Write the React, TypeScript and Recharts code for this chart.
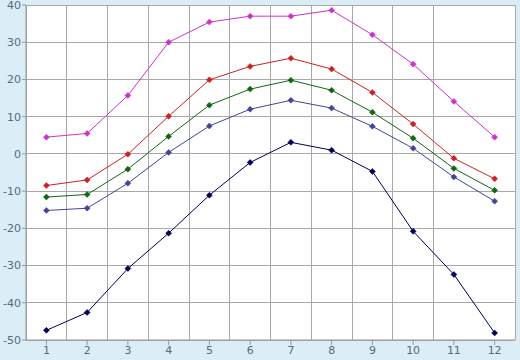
import { LineChart, Line, XAxis, YAxis, CartesianGrid } from 'recharts'

const MONTHS = [1, 2, 3, 4, 5, 6, 7, 8, 9, 10, 11, 12]
const BOUNDARIES = [0.5, 1.5, 2.5, 3.5, 4.5, 5.5, 6.5, 7.5, 8.5, 9.5, 10.5, 11.5, 12.5]
const Y_TICKS = [-50, -40, -30, -20, -10, 0, 10, 20, 30, 40]

const absMax = [4.5, 5.5, 15.7, 30, 35.4, 37, 37, 38.6, 32, 24.1, 14.1, 4.5]
const avgMax = [-8.5, -7, -0.1, 10.1, 19.9, 23.5, 25.7, 22.8, 16.5, 8, -1.2, -6.7]
const avg = [-11.6, -10.9, -4.1, 4.7, 13.1, 17.4, 19.8, 17.1, 11.2, 4.2, -3.9, -9.8]
const avgMin = [-15.2, -14.6, -7.9, 0.4, 7.5, 12, 14.4, 12.3, 7.4, 1.5, -6.2, -12.7]
const absMin = [-47.4, -42.6, -30.8, -21.3, -11.1, -2.3, 3.1, 1, -4.7, -20.8, -32.4, -48.1]

const SERIES = [
  { key: 'absMax', color: '#cc33cc' },
  { key: 'avgMax', color: '#cc2222' },
  { key: 'avg', color: '#116611' },
  { key: 'avgMin', color: '#444499' },
  { key: 'absMin', color: '#000055' },
]

const data = MONTHS.map((m, i) => ({
  month: m,
  absMax: absMax[i],
  avgMax: avgMax[i],
  avg: avg[i],
  avgMin: avgMin[i],
  absMin: absMin[i],
}))

const tickStyle = { fill: '#56697b', fontSize: 11, fontFamily: 'DejaVu Sans, Verdana, sans-serif' }

function Marker(color: string) {
  return (props: any) => {
    const { cx, cy } = props
    if (cx == null || cy == null) return null
    const s = 3
    return (
      <path
        key={`${props.index}`}
        d={`M${cx},${cy - s}L${cx + s},${cy}L${cx},${cy + s}L${cx - s},${cy}Z`}
        fill={color}
        stroke={color}
        strokeWidth={0.5}
      />
    )
  }
}

export default function App() {
  return (
    <div style={{ position: 'fixed', left: 0, top: 0, width: 520, height: 360, background: '#dbeef7' }}>
      <LineChart width={520} height={360} data={data} margin={{ top: 5, right: 5, bottom: 0, left: 0 }}>
        <CartesianGrid
          xAxisId="grid"
          stroke="#a8a8a8"
          fill="#ffffff"
          fillOpacity={1}
          shapeRendering="crispEdges"
        />
        <XAxis
          xAxisId="grid"
          dataKey="month"
          type="number"
          domain={[0.5, 12.5]}
          ticks={BOUNDARIES}
          hide
        />
        <XAxis
          dataKey="month"
          type="number"
          domain={[0.5, 12.5]}
          ticks={MONTHS}
          height={20}
          stroke="#999999"
          tick={tickStyle}
          tickSize={5}
          tickMargin={1}
          interval={0}
        />
        <YAxis
          domain={[-50, 40]}
          ticks={Y_TICKS}
          width={26}
          stroke="#999999"
          tick={tickStyle}
          tickSize={4}
          tickMargin={1}
          interval={0}
        />
        {SERIES.map(s => (
          <Line
            key={s.key}
            dataKey={s.key}
            type="linear"
            stroke={s.color}
            strokeWidth={1}
            dot={Marker(s.color)}
            activeDot={false}
            isAnimationActive={false}
          />
        ))}
      </LineChart>
    </div>
  )
}
